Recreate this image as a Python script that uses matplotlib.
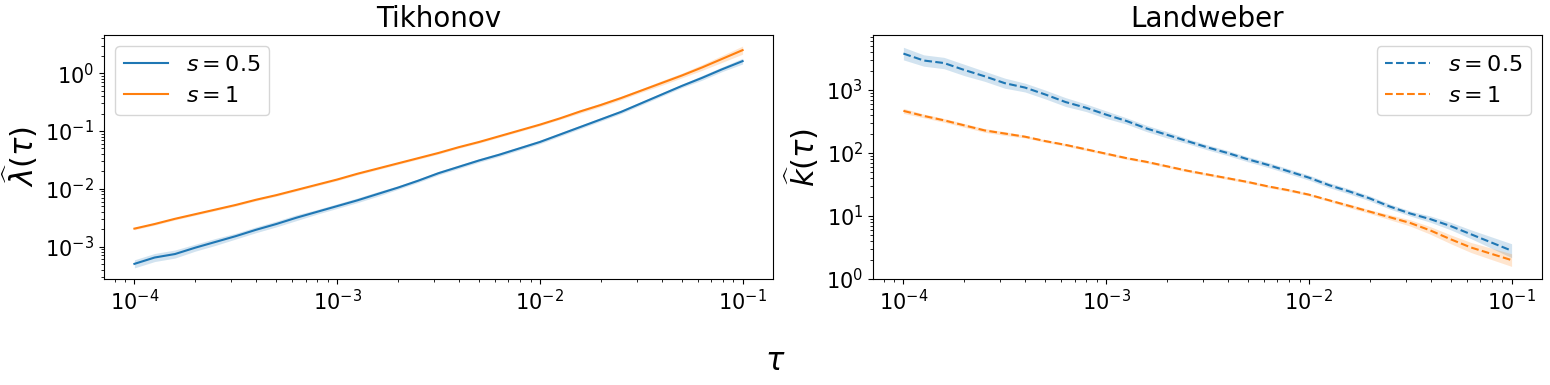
import numpy as np
import matplotlib
matplotlib.use("Agg")
import matplotlib.pyplot as plt

# x grid: tau values (log10)
log_tau = [-4.0, -3.9, -3.8, -3.7, -3.6, -3.5, -3.4, -3.3, -3.2, -3.1, -3.0,
           -2.9, -2.8, -2.7, -2.6, -2.5, -2.4, -2.3, -2.2, -2.1, -2.0,
           -1.9, -1.8, -1.7, -1.6, -1.5, -1.4, -1.3, -1.2, -1.1, -1.0]

# Tikhonov: log10 of lambda_hat
tik_s05 = [-3.30, -3.19, -3.13, -3.02, -2.92, -2.82, -2.71, -2.61, -2.50, -2.40, -2.30,
           -2.20, -2.09, -1.98, -1.86, -1.73, -1.62, -1.51, -1.41, -1.30, -1.19,
           -1.06, -0.93, -0.80, -0.67, -0.52, -0.37, -0.22, -0.08, 0.07, 0.21]
tik_s1 = [-2.69, -2.61, -2.52, -2.44, -2.36, -2.28, -2.19, -2.11, -2.02, -1.93, -1.84,
          -1.74, -1.65, -1.56, -1.47, -1.38, -1.28, -1.19, -1.09, -0.99, -0.89,
          -0.78, -0.66, -0.55, -0.43, -0.30, -0.17, -0.04, 0.10, 0.25, 0.40]
tik_s05_err = [0.07, 0.07, 0.07, 0.06, 0.06, 0.05, 0.05, 0.05, 0.05, 0.04, 0.04,
               0.04, 0.04, 0.03, 0.03, 0.03, 0.03, 0.03, 0.03, 0.03, 0.03,
               0.03, 0.03, 0.03, 0.03, 0.03, 0.03, 0.03, 0.04, 0.04, 0.05]
tik_s1_err = [0.02, 0.02, 0.02, 0.02, 0.02, 0.02, 0.02, 0.02, 0.02, 0.02, 0.02,
              0.02, 0.02, 0.02, 0.02, 0.02, 0.02, 0.02, 0.02, 0.02, 0.02,
              0.02, 0.03, 0.03, 0.03, 0.03, 0.04, 0.04, 0.05, 0.06, 0.07]

# Landweber: log10 of k_hat
lw_s05 = [3.58, 3.47, 3.43, 3.32, 3.22, 3.11, 3.04, 2.93, 2.81, 2.72, 2.61,
          2.51, 2.39, 2.29, 2.19, 2.09, 2.00, 1.90, 1.81, 1.71, 1.61,
          1.49, 1.39, 1.28, 1.15, 1.04, 0.95, 0.84, 0.71, 0.58, 0.45]
lw_s1 = [2.67, 2.59, 2.52, 2.44, 2.36, 2.31, 2.26, 2.19, 2.13, 2.06, 1.99,
         1.92, 1.86, 1.79, 1.72, 1.66, 1.60, 1.54, 1.47, 1.41, 1.34,
         1.25, 1.16, 1.07, 0.98, 0.89, 0.77, 0.63, 0.50, 0.40, 0.30]
lw_s05_err = [0.10, 0.09, 0.09, 0.09, 0.08, 0.08, 0.07, 0.07, 0.07, 0.06, 0.06,
              0.05, 0.05, 0.05, 0.04, 0.04, 0.04, 0.04, 0.04, 0.04, 0.04,
              0.04, 0.04, 0.04, 0.04, 0.04, 0.05, 0.06, 0.07, 0.09, 0.11]
lw_s1_err = [0.04, 0.03, 0.03, 0.03, 0.03, 0.03, 0.02, 0.02, 0.02, 0.02, 0.02,
             0.02, 0.02, 0.02, 0.02, 0.02, 0.02, 0.02, 0.02, 0.02, 0.02,
             0.02, 0.03, 0.03, 0.04, 0.05, 0.06, 0.07, 0.08, 0.09, 0.10]

labels = [r'$s = 0.5$', r'$s = 1$']
titles = ['Tikhonov', 'Landweber']
ylabels = [r'$\widehat{\lambda}(\tau)$', r'$\widehat{k}(\tau)$']
colors = ['#1f77b4', '#ff7f0e']

tau = 10.0 ** np.array(log_tau)

fig = plt.figure(figsize=(15.5, 3.85), dpi=100)
ax1 = fig.add_axes([104/1550, 1 - 279/385, 669/1550, 244/385])
ax2 = fig.add_axes([873/1550, 1 - 279/385, 669/1550, 244/385])

panels = [
    (ax1, [tik_s05, tik_s1], [tik_s05_err, tik_s1_err], '-', 'upper left'),
    (ax2, [lw_s05, lw_s1], [lw_s05_err, lw_s1_err], '--', 'upper right'),
]

for i, (ax, series, errs, ls, loc) in enumerate(panels):
    for j, (vals, err) in enumerate(zip(series, errs)):
        v = np.array(vals)
        e = np.array(err)
        ax.fill_between(tau, 10.0 ** (v - e), 10.0 ** (v + e), color=colors[j],
                        alpha=0.2, linewidth=0)
        ax.plot(tau, 10.0 ** v, ls, color=colors[j], lw=1.5, label=labels[j])
    ax.set_xscale('log')
    ax.set_yscale('log')
    ax.set_title(titles[i], fontsize=20)
    ax.set_ylabel(ylabels[i], fontsize=22)
    ax.tick_params(axis='both', which='major', labelsize=15)
    ax.legend(loc=loc, fontsize=16)

ax2.set_ylim(1.0, 7500)

fig.text(0.5, 0.06, r'$\tau$', ha='center', va='center', fontsize=22)

fig.savefig('out.png', dpi=100)
